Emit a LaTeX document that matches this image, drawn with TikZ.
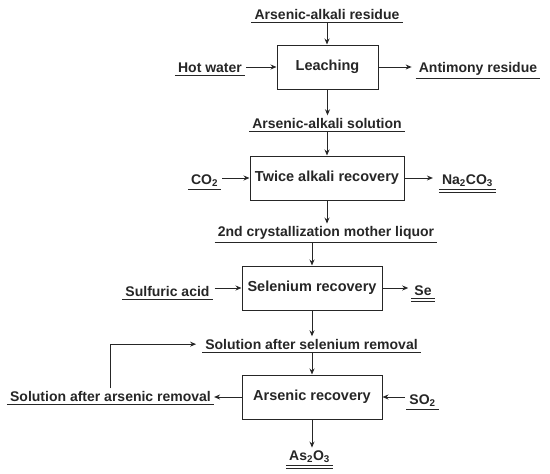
\documentclass[tikz,border=0pt]{standalone}
\usepackage{fontspec}
\setmainfont{Liberation Sans}
\usetikzlibrary{arrows.meta}
\definecolor{ink}{gray}{0.15}
\begin{document}
\begin{tikzpicture}[x=1pt,y=-1pt,color=ink,
  lbl/.style={anchor=south,inner xsep=3pt,inner ysep=2.5pt,font=\fontsize{14}{16}\selectfont\bfseries},
  proc/.style={draw,line width=1pt,minimum height=44pt,inner sep=0pt,font=\fontsize{14.5}{16}\selectfont\bfseries},
  arr/.style={line width=1pt,-{Stealth[length=6pt,width=5pt]}},
  ul/.style={line width=1pt}]
\useasboundingbox (0,0) rectangle (550,474);
% nodes
\node[lbl] (resid) at (327,22) {Arsenic-alkali residue};
\node[proc,minimum width=101pt] (leach) at (327.5,67) {Leaching};
\node[lbl] (hot) at (210,75) {Hot water};
\node[lbl] (anti) at (478,78) {Antimony residue};
\node[lbl] (sol) at (327,131) {Arsenic-alkali solution};
\node[proc,minimum width=154pt] (twice) at (327,178) {Twice alkali recovery};
\node[lbl] (co2) at (204.5,189) {CO\textsubscript{2}};
\node[lbl] (na) at (467.5,189) {Na\textsubscript{2}CO\textsubscript{3}};
\node[lbl] (moth) at (326,242) {2nd crystallization mother liquor};
\node[proc,minimum width=140pt] (sel) at (312,288) {Selenium recovery};
\node[lbl] (sulf) at (167.5,299) {Sulfuric acid};
\node[lbl] (se) at (423,298) {Se};
\node[lbl] (sasr) at (311.5,352) {Solution after selenium removal};
\node[proc,minimum width=140pt] (ars) at (312,397) {Arsenic recovery};
\node[lbl] (sar) at (110.5,404) {Solution after arsenic removal};
\node[lbl] (so2) at (422.5,409) {SO\textsubscript{2}};
\node[lbl] (as) at (309.5,465) {As\textsubscript{2}O\textsubscript{3}};
% underlines
\foreach \n in {resid,hot,anti,sol,co2,na,moth,sulf,se,sasr,sar,so2,as}
  \draw[ul] (\n.south west) -- (\n.south east);
\foreach \n in {na,se,as}
  \draw[ul] ([yshift=-3.5pt]\n.south west) -- ([yshift=-3.5pt]\n.south east);
% vertical flow
\draw[arr] (resid.south) -- (resid.south |- leach.north);
\draw[arr] (leach.south) -- (leach.south |- sol.north);
\draw[arr] (sol.south) -- (sol.south |- twice.north);
\draw[arr] (twice.south) -- (twice.south |- moth.north);
\draw[arr] (sel.north |- moth.south) -- (sel.north);
\draw[arr] (sel.south) -- (sel.south |- sasr.north);
\draw[arr] (ars.north |- sasr.south) -- (ars.north);
\draw[arr] (ars.south) -- (ars.south |- as.north);
% horizontal inputs/outputs
\draw[arr] ([xshift=1pt]hot.east |- leach.west) -- (leach.west);
\draw[arr] (leach.east) -- ([xshift=-4pt]anti.west |- leach.east);
\draw[arr] ([xshift=1pt]co2.east |- twice.west) -- (twice.west);
\draw[arr] (twice.east) -- ([xshift=-6pt]na.west |- twice.east);
\draw[arr] ([xshift=2pt]sulf.east |- sel.west) -- (sel.west);
\draw[arr] (sel.east) -- ([xshift=-3pt]se.west |- sel.east);
\draw[arr] (ars.west) -- ([xshift=0pt]sar.east |- ars.west);
\draw[arr] ([xshift=-1pt]so2.west |- ars.east) -- (ars.east);
% feedback
\draw[arr] (sar.north) |- ([xshift=-6pt]sasr.west);
\end{tikzpicture}
\end{document}
